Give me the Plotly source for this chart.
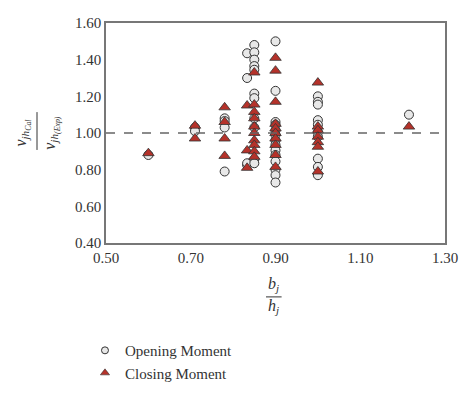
import plotly.graph_objects as go

# Opening Moment (circles)
open_x = [0.60,
          0.71, 0.71,
          0.78, 0.78, 0.78, 0.78,
          0.833, 0.833, 0.833, 0.833,
          0.85, 0.85, 0.85, 0.85, 0.85, 0.85, 0.85, 0.85, 0.85, 0.85, 0.85,
          0.90, 0.90, 0.90, 0.90, 0.90, 0.90, 0.90, 0.90, 0.90, 0.90, 0.90, 0.90, 0.90, 0.90,
          1.00, 1.00, 1.00, 1.00, 1.00, 1.00, 1.00, 1.00, 1.00, 1.00,
          1.215]
open_y = [0.88,
          1.03, 1.01,
          1.08, 1.065, 1.03, 0.79,
          1.435, 1.30, 0.825, 0.835,
          1.48, 1.44, 1.40, 1.365, 1.345, 1.215, 1.19, 1.08, 1.03, 0.855, 0.835,
          1.50, 1.23, 1.06, 1.045, 1.015, 0.99, 0.96, 0.935, 0.905, 0.88, 0.845, 0.80, 0.77, 0.73,
          1.20, 1.17, 1.155, 1.07, 1.045, 1.005, 0.98, 0.86, 0.815, 0.77,
          1.10]

# Closing Moment (triangles)
close_x = [0.60,
           0.71, 0.71,
           0.78, 0.78, 0.78, 0.78,
           0.833, 0.833, 0.833,
           0.85, 0.85, 0.85, 0.85, 0.85, 0.85, 0.85, 0.85, 0.85, 0.85,
           0.90, 0.90, 0.90, 0.90, 0.90, 0.90, 0.90, 0.90, 0.90, 0.90,
           1.00, 1.00, 1.00, 1.00, 1.00, 1.00, 1.00,
           1.215]
close_y = [0.89,
           1.04, 0.97,
           1.14, 1.06, 0.97, 0.875,
           1.15, 0.905, 0.81,
           1.33, 1.155, 1.115, 1.08, 1.035, 1.00, 0.96, 0.935, 0.90, 0.87,
           1.41, 1.34, 1.17, 1.05, 1.025, 1.00, 0.97, 0.935, 0.88, 0.815,
           1.275, 1.035, 1.015, 0.98, 0.95, 0.925, 0.79,
           1.035]

x_ticks = [0.50, 0.70, 0.90, 1.10, 1.30]
y_ticks = [0.40, 0.60, 0.80, 1.00, 1.20, 1.40, 1.60]
ref_value = 1.00

FONT = "Liberation Serif"
OPEN_FILL = "#e8e8e8"
CLOSE_FILL = "#b5322a"
EDGE = "#333333"

fig = go.Figure()
fig.add_trace(go.Scatter(
    x=open_x, y=open_y, mode="markers", name="Opening Moment", showlegend=False,
    marker=dict(symbol="circle", size=9, color=OPEN_FILL, line=dict(color=EDGE, width=1))))
fig.add_trace(go.Scatter(
    x=close_x, y=close_y, mode="markers", name="Closing Moment", showlegend=False,
    marker=dict(symbol="triangle-up", size=10, color=CLOSE_FILL, line=dict(color=EDGE, width=0.8))))
# legend entries with smaller symbols
fig.add_trace(go.Scatter(
    x=[None], y=[None], mode="markers", name="Opening Moment",
    marker=dict(symbol="circle", size=7, color=OPEN_FILL, line=dict(color=EDGE, width=1))))
fig.add_trace(go.Scatter(
    x=[None], y=[None], mode="markers", name="Closing Moment",
    marker=dict(symbol="triangle-up", size=8, color=CLOSE_FILL, line=dict(color=EDGE, width=0.6))))

fig.add_shape(type="line", xref="paper", yref="y", x0=0, x1=1, y0=ref_value, y1=ref_value,
              line=dict(color="#666666", width=1.5, dash="dash"))

# x-axis title as fraction b_j / h_j
fig.add_annotation(xref="paper", yref="paper", x=0.495, y=-0.19, yanchor="middle",
                   text="<i>b<sub>j</sub></i>", showarrow=False,
                   font=dict(family=FONT, size=16, color="#333"))
fig.add_shape(type="line", xref="paper", yref="paper", x0=0.472, x1=0.518, y0=-0.245, y1=-0.245,
              line=dict(color="#333", width=1))
fig.add_annotation(xref="paper", yref="paper", x=0.495, y=-0.29, yanchor="middle",
                   text="<i>h<sub>j</sub></i>", showarrow=False,
                   font=dict(family=FONT, size=16, color="#333"))

# y-axis title as fraction (rotated)
fig.add_annotation(xref="paper", yref="paper", x=-0.246, y=0.5, xanchor="center", yanchor="middle",
                   text="<i>v<sub>jh<sub>Cal</sub></sub></i>", showarrow=False, textangle=-90,
                   font=dict(family=FONT, size=16, color="#333"))
fig.add_shape(type="line", xref="paper", yref="paper", x0=-0.2035, x1=-0.2035, y0=0.423, y1=0.595,
              line=dict(color="#333", width=1))
fig.add_annotation(xref="paper", yref="paper", x=-0.16, y=0.5, xanchor="center", yanchor="middle",
                   text="<i>v<sub>jh<sub>(Exp)</sub></sub></i>", showarrow=False, textangle=-90,
                   font=dict(family=FONT, size=16, color="#333"))

fig.update_layout(
    width=474, height=395,
    margin=dict(l=98, r=37, t=15, b=160, autoexpand=False),
    plot_bgcolor="white", paper_bgcolor="white",
    font=dict(family=FONT, size=15, color="#333"),
    showlegend=True,
    legend=dict(x=-0.062, y=-0.414, xanchor="left", yanchor="top",
                font=dict(family=FONT, size=15, color="#333"),
                itemsizing="trace", tracegroupgap=0, bgcolor="rgba(0,0,0,0)"),
)
fig.update_xaxes(range=[0.5, 1.3], tickvals=x_ticks, ticktext=[f"{v:.2f}" for v in x_ticks],
                 showgrid=False, zeroline=False, showline=True, linecolor="#777", linewidth=1.5,
                 mirror=True, ticks="", tickfont=dict(family=FONT, size=15, color="#333"))
fig.update_yaxes(range=[0.4, 1.6], tickvals=y_ticks, ticktext=[f"{v:.2f}" for v in y_ticks],
                 showgrid=False, zeroline=False, showline=True, linecolor="#777", linewidth=1.5,
                 mirror=True, ticks="", tickfont=dict(family=FONT, size=15, color="#333"))

fig.write_html("out.html")
